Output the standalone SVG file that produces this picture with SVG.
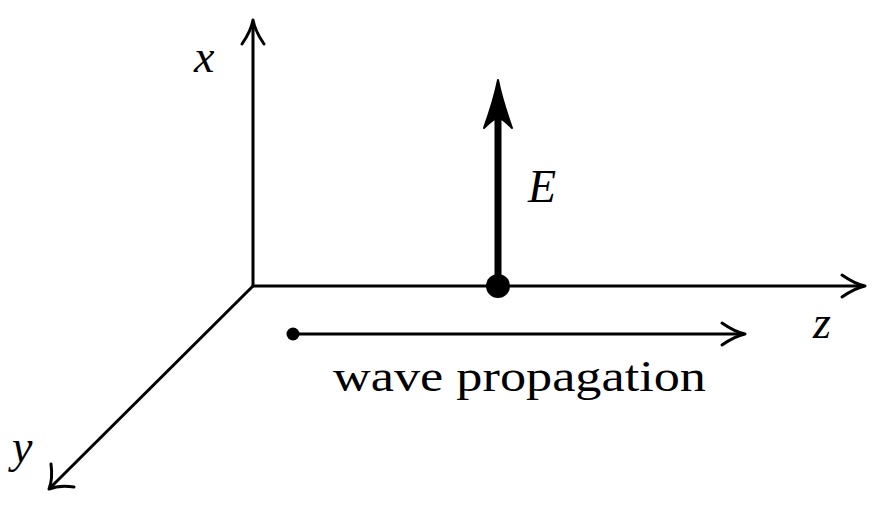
<svg xmlns="http://www.w3.org/2000/svg" width="892" height="514" viewBox="0 0 892 514">
<style>
.ax{stroke:#000;stroke-width:3;fill:none}
.hd{stroke:#000;stroke-width:3;fill:none;stroke-linecap:round;stroke-linejoin:round}
.lbl{font-family:"Liberation Serif",serif;font-style:italic;font-size:46px;fill:#000}
.txt{font-family:"Liberation Serif",serif;font-size:44px;fill:#000}
</style>
<rect width="892" height="514" fill="#fff"/>
<g id="connectors">
<line class="ax" x1="253" y1="286" x2="253" y2="22"/>
<path class="hd" d="M242,44 Q251,31 253,20 Q255,31 264,44"/>
<line class="ax" x1="253" y1="286" x2="863" y2="286"/>
<path class="hd" d="M842,275 Q855,284 865,286 Q855,288 842,297"/>
<line class="ax" x1="253" y1="286" x2="51" y2="487"/>
<path class="hd" d="M51,464 Q53,479 49,489 Q59,485 74,487"/>
<line x1="293" y1="334" x2="743" y2="334" class="ax"/>
<path class="hd" d="M722,323 Q735,332 745,334 Q735,336 722,345"/>
<line x1="498" y1="286" x2="498" y2="110" stroke="#000" stroke-width="7"/>
<path d="M484,128 Q494,100 498,80 Q502,100 512,128 Q502,118 498,118 Q494,118 484,128Z" fill="#000" stroke="#000" stroke-width="2" stroke-linejoin="round"/>
</g>
<g id="E-origin"><circle cx="498" cy="286" r="12" fill="#000"/></g>
<g id="wave-start"><circle cx="293" cy="334" r="6.5" fill="#000"/></g>
<g id="labels">
<text class="lbl" x="194" y="72">x</text>
<text class="lbl" x="528" y="202">E</text>
<text class="lbl" x="813" y="338">z</text>
<text class="lbl" x="12" y="462">y</text>
<text class="txt" x="333" y="391" textLength="373" lengthAdjust="spacingAndGlyphs">wave propagation</text>
</g>
</svg>
